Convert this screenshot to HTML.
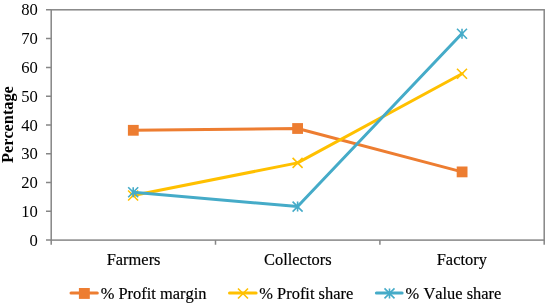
<!DOCTYPE html>
<html><head><meta charset="utf-8">
<style>
html,body{margin:0;padding:0;background:#fff;}
body{width:550px;height:306px;overflow:hidden;}
svg{display:block;}
text{font-family:"Liberation Serif","Times New Roman",serif;fill:#000;font-kerning:none;}
.b{stroke:#000;stroke-width:0.18px;}
</style></head>
<body>
<svg width="550" height="306" viewBox="0 0 550 306">
<rect x="0" y="0" width="550" height="306" fill="#fff"/>
<!-- plot area border -->
<g stroke="#868686" stroke-width="1.5" fill="none">
<rect x="51.2" y="9.8" width="493" height="230.3"/>
<!-- y ticks -->
<path d="M46 9.8H51.2M46 38.6H51.2M46 67.4H51.2M46 96.2H51.2M46 125H51.2M46 153.7H51.2M46 182.5H51.2M46 211.3H51.2M46 240.1H51.2"/>
<!-- x ticks -->
<path d="M51.2 240.1V244.8M215.5 240.1V244.8M379.9 240.1V244.8M544.2 240.1V244.8"/>
</g>
<!-- y labels -->
<g font-size="17.6" text-anchor="end">
<text transform="translate(37.9,15.46) scale(0.945,1)">80</text>
<text transform="translate(37.9,44.26) scale(0.945,1)">70</text>
<text transform="translate(37.9,73.06) scale(0.945,1)">60</text>
<text transform="translate(37.9,101.86) scale(0.945,1)">50</text>
<text transform="translate(37.9,130.66) scale(0.945,1)">40</text>
<text transform="translate(37.9,159.36) scale(0.945,1)">30</text>
<text transform="translate(37.9,188.16) scale(0.945,1)">20</text>
<text transform="translate(37.9,216.96) scale(0.945,1)">10</text>
<text transform="translate(37.9,245.76) scale(0.945,1)">0</text>
</g>
<text font-size="16.3" font-weight="bold" text-anchor="middle" transform="translate(13.3,124.6) rotate(-90)">Percentage</text>
<!-- x labels -->
<g class="b" font-size="17.3" text-anchor="middle">
<text transform="translate(133.6,264.7) scale(0.95,1)">Farmers</text>
<text transform="translate(297.8,264.7) scale(0.95,1)">Collectors</text>
<text transform="translate(461.8,264.7) scale(0.95,1)">Factory</text>
</g>
<!-- series -->
<g fill="none" stroke-width="3" stroke-linejoin="round" stroke-linecap="round">
<polyline stroke="#ED7D31" points="133.3,130.3 297.6,128.5 462.1,171.9"/>
</g>
<g fill="#ED7D31">
<rect x="127.90" y="124.90" width="10.8" height="10.8"/>
<rect x="292.20" y="123.10" width="10.8" height="10.8"/>
<rect x="456.70" y="166.50" width="10.8" height="10.8"/>
</g>
<polyline fill="none" stroke-width="3" stroke-linejoin="round" stroke-linecap="round" stroke="#FFC000" points="133.1,195.5 297.6,162.9 462,73.8"/>
<path stroke="#FFC000" stroke-width="1.6" fill="none" d="M128.10 190.50l10 10m0 -10l-10 10M292.60 157.90l10 10m0 -10l-10 10M457.00 68.80l10 10m0 -10l-10 10"/>
<polyline fill="none" stroke-width="3" stroke-linejoin="round" stroke-linecap="round" stroke="#45ABC8" points="133.2,192.2 297.6,206.5 462,33.5"/>
<path stroke="#45ABC8" stroke-width="1.6" fill="none" d="M128.20 187.30l10 10m0 -10l-10 10M133.20 187.30v10M292.60 201.60l10 10m0 -10l-10 10M297.60 201.60v10M457.00 28.70l10 10m0 -10l-10 10M462.00 28.70v10"/>
<!-- legend -->
<g stroke-width="3" stroke-linecap="round">
<line x1="71" y1="293.1" x2="97.3" y2="293.1" stroke="#ED7D31"/>
<line x1="229.5" y1="293.1" x2="256.1" y2="293.1" stroke="#FFC000"/>
<line x1="376.4" y1="293.1" x2="402.1" y2="293.1" stroke="#45ABC8"/>
</g>
<g fill="#ED7D31"><rect x="78.90" y="288.00" width="10.9" height="10.9"/></g>
<path d="M238.00 288.50l10 10m0 -10l-10 10" stroke="#FFC000" stroke-width="1.6" fill="none"/>
<path d="M384.50 288.40l10 10m0 -10l-10 10M389.50 288.40v10" stroke="#45ABC8" stroke-width="1.6" fill="none"/>
<g class="b" font-size="17.3">
<text transform="translate(100.7,298.5) scale(0.95,1)">% Profit margin</text>
<text transform="translate(259.3,298.5) scale(0.95,1)">% Profit share</text>
<text transform="translate(405.6,298.5) scale(0.95,1)">% Value share</text>
</g>
</svg>
</body></html>
